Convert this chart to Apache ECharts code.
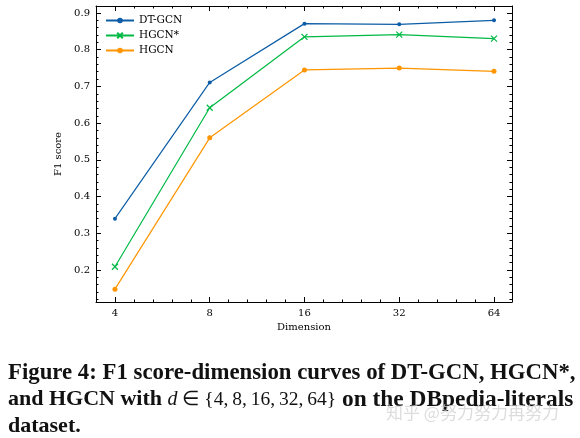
<!DOCTYPE html>
<html>
  <head>
    <meta charset="utf-8" />
    <title>F1 score-dimension</title>
    <script src="https://cdn.jsdelivr.net/npm/echarts@6/dist/echarts.min.js"></script>
    <style>
      html, body { margin: 0; padding: 0; background: #fff; }
    </style>
  </head>
  <body>
    <div id="main" style="width: 580px; height: 438px;"></div>
    <script type="text/javascript">
      // data
      const dims = [4, 8, 16, 32, 64];
      const dtgcn = [0.34, 0.711, 0.871, 0.869, 0.88];
      const hgcnStar = [0.209, 0.642, 0.835, 0.841, 0.83];
      const hgcn = [0.148, 0.56, 0.745, 0.75, 0.741];
      const yTicks = [0.2, 0.3, 0.4, 0.5, 0.6, 0.7, 0.8, 0.9];

      const serif = "'DejaVu Serif', 'Liberation Serif', serif";
      const yMin = 0.113, yMax = 0.919;
      const xMin = -0.2, xMax = 4.19;

      // minor tick positions
      const yMinor = [];
      for (let v = 0.12; v < yMax; v += 0.02) yMinor.push(+v.toFixed(2));
      const xMinor = [];
      for (let v = 0; v <= 4.0001; v += 0.2) xMinor.push(+v.toFixed(1));
      const xMajor = dims.map((d, i) => i);

      const toPts = vals => vals.map((v, i) => [i, v]);

      const myChart = echarts.init(document.getElementById("main"));

      const baseX = (pos, show) => ({
        type: "value", position: pos, min: xMin, max: xMax,
        axisLine: { show: true, onZero: false, lineStyle: { color: "#000", width: 1 } },
        axisTick: { show: true, inside: true, length: 5, customValues: xMajor, lineStyle: { color: "#000" } },
        axisLabel: show ? {
          show: true, customValues: xMajor, color: "#000", fontFamily: serif, fontSize: 10, margin: 6,
          formatter: v => dims[Math.round(v)]
        } : { show: false },
        splitLine: { show: false },
      });
      const minorX = pos => ({
        type: "value", position: pos, min: xMin, max: xMax,
        axisLine: { show: false, onZero: false },
        axisTick: { show: true, inside: true, length: 2.5, customValues: xMinor, lineStyle: { color: "#000" } },
        axisLabel: { show: false }, splitLine: { show: false },
      });
      const baseY = (pos, show) => ({
        type: "value", position: pos, min: yMin, max: yMax,
        axisLine: { show: true, onZero: false, lineStyle: { color: "#000", width: 1 } },
        axisTick: { show: true, inside: true, length: 5, customValues: yTicks, lineStyle: { color: "#000" } },
        axisLabel: show ? {
          show: true, customValues: yTicks, color: "#000", fontFamily: serif, fontSize: 10, margin: 6,
          formatter: v => v.toFixed(1)
        } : { show: false },
        splitLine: { show: false },
      });
      const minorY = pos => ({
        type: "value", position: pos, min: yMin, max: yMax,
        axisLine: { show: false, onZero: false },
        axisTick: { show: true, inside: true, length: 2.5, customValues: yMinor, lineStyle: { color: "#000" } },
        axisLabel: { show: false }, splitLine: { show: false },
      });

      const xAxes = [baseX("bottom", true), baseX("top", false), minorX("bottom"), minorX("top")];
      xAxes[0].name = "Dimension";
      xAxes[0].nameLocation = "middle";
      xAxes[0].nameGap = 17;
      xAxes[0].nameTextStyle = { color: "#000", fontFamily: serif, fontSize: 10 };
      const yAxes = [baseY("left", true), baseY("right", false), minorY("left"), minorY("right")];
      yAxes[0].name = "F1 score";
      yAxes[0].nameLocation = "middle";
      yAxes[0].nameGap = 28;
      yAxes[0].nameTextStyle = { color: "#000", fontFamily: serif, fontSize: 10 };

      const crossPath = "path://M0,0L10,10M10,0L0,10";

      // caption, laid out piece by piece (mixed bold / math fonts)
      const capFam = "'Liberation Serif', serif";
      const pieces = [
        [8, 373, [["Figure 4: F1 score-dimension curves of DT-GCN, HGCN*,", "bold", "normal", 22.8]]],
        [8, 399.5, [
          ["and HGCN with ", "bold", "normal", 22],
          ["d", "normal", "italic", 20],
          [" ∈ {4,\u20098,\u200916,\u200932,\u200964}", "normal", "normal", 19.5],
          [" on the DBpedia-literals", "bold", "normal", 23.4],
        ]],
        [8, 426, [["dataset.", "bold", "normal", 22]]],
      ];
      const ctx = document.createElement("canvas").getContext("2d");
      const caption = [];
      pieces.forEach(([x0, yc, parts]) => {
        let x = x0;
        parts.forEach(([s, weight, style, size]) => {
          caption.push({
            type: "text", x: x, y: yc,
            style: {
              text: s, fill: "#111", fontFamily: capFam, fontWeight: weight, fontStyle: style,
              fontSize: size, verticalAlign: "middle",
            },
          });
          ctx.font = style + " " + weight + " " + size + "px " + capFam;
          x += ctx.measureText(s).width;
        });
      });

      const option = {
        backgroundColor: "#fff",
        animation: false,
        grid: { left: 96, right: 68, top: 6, bottom: 136, containLabel: false },
        xAxis: xAxes,
        yAxis: yAxes,
        legend: {
          left: 100, top: 10, orient: "vertical", itemGap: 4, itemWidth: 28, itemHeight: 7,
          textStyle: { color: "#000", fontFamily: serif, fontSize: 10.5 },
          data: ["DT-GCN", "HGCN*", "HGCN"],
        },
        series: [
          {
            name: "DT-GCN", type: "line", data: toPts(dtgcn),
            symbol: "circle", symbolSize: 4,
            lineStyle: { color: "#0C5DA5", width: 1.2 },
            itemStyle: { color: "#0C5DA5" },
          },
          {
            name: "HGCN*", type: "line", data: toPts(hgcnStar),
            symbol: crossPath, symbolSize: 6,
            lineStyle: { color: "#00B945", width: 1.2 },
            itemStyle: { color: "#00B945", borderColor: "#00B945", borderWidth: 1.2 },
          },
          {
            name: "HGCN", type: "line", data: toPts(hgcn),
            symbol: "circle", symbolSize: 5,
            lineStyle: { color: "#FF9500", width: 1.2 },
            itemStyle: { color: "#FF9500" },
          },
        ],
        graphic: caption.concat([
          {
            type: "text", left: 386, top: 404, z: 10,
            style: {
              text: "知乎 @努力努力再努力",
              fill: "rgba(205,205,205,0.7)", fontFamily: "'Noto Sans CJK SC', sans-serif", fontSize: 17,
            },
          },
        ]),
      };
      myChart.setOption(option);
    </script>
  </body>
</html>
